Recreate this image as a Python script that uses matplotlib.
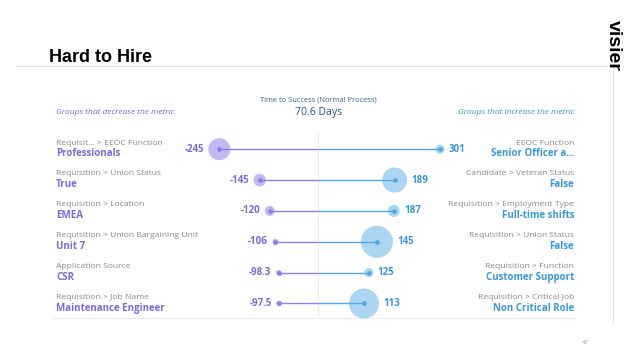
import numpy as np
import matplotlib
matplotlib.use('Agg')
import matplotlib.pyplot as plt

# chart data
left_cats = ['Requisit... > EEOC Function', 'Requisition > Union Status', 'Requisition > Location',
             'Requisition > Union Bargaining Unit', 'Application Source', 'Requisition > Job Name']
left_groups = ['Professionals', 'True', 'EMEA', 'Unit 7', 'CSR', 'Maintenance Engineer']
left_vals = [-245, -145, -120, -106, -98.3, -97.5]
left_counts = [484, 159, 100, 36, 29, 29]

right_cats = ['EEOC Function', 'Candidate > Veteran Status', 'Requisition > Employment Type',
              'Requisition > Union Status', 'Requisition > Function', 'Requisition > Critical Job']
right_groups = ['Senior Officer a...', 'False', 'Full-time shifts', 'False', 'Customer Support', 'Non Critical Role']
right_vals = [301, 189, 187, 145, 125, 113]
right_counts = [81, 625, 144, 1024, 81, 900]

left_labels = ['-245', '-145', '-120', '-106', '-98.3', '-97.5']
right_labels = ['301', '189', '187', '145', '125', '113']

metric_name = 'Time to Success (Normal Process)'
metric_value = '70.6 Days'

# colours
PURPLE_FILL = '#c2b9f4'
PURPLE = '#8e80e6'
PURPLE_TXT = '#7a6bdc'
BLUE_FILL = '#abd5f2'
BLUE = '#55a8df'
BLUE_TXT = '#3b98d8'
GRAY_TXT = '#8a8a8a'

W, H = 638, 359
fig = plt.figure(figsize=(W / 100, H / 100), dpi=100)
fig.patch.set_facecolor('white')

# panel geometry in pixels
px_l, px_r, px_t, px_b = 16, 613, 66, 322
x0_px, k = 318.3, 0.4042        # zero line and px per unit
row0_px, row_h = 149.2, 30.85

ax = fig.add_axes([px_l / W, 1 - px_b / H, (px_r - px_l) / W, (px_b - px_t) / H])
ax.set_xlim((px_l - x0_px) / k, (px_r - x0_px) / k)
ax.set_ylim((px_b - row0_px) / row_h, (px_t - row0_px) / row_h)
ax.set_xticks([])
ax.set_yticks([])
for s in ['left', 'bottom']:
    ax.spines[s].set_visible(False)
for s in ['top', 'right']:
    ax.spines[s].set_color('#e2e2e2')
    ax.spines[s].set_linewidth(0.8)


def px_x(p):
    return (p - x0_px) / k


def px_y(p):
    return (p - row0_px) / row_h


FONT = ['Open Sans', 'DejaVu Sans']
rows = np.arange(len(left_vals))

# zero line and bottom rule
ax.plot([0, 0], [px_y(133), px_y(318)], color='#ececec', lw=0.8, zorder=0)
ax.plot([px_x(53), px_x(575)], [px_y(318), px_y(318)], color='#ececec', lw=0.8, zorder=0)

# bubbles
r_left = np.sqrt(left_counts) / 2
r_right = np.sqrt(right_counts) / 2
ax.scatter(left_vals, rows, s=(2 * r_left * 0.72) ** 2, color=PURPLE_FILL, lw=0, zorder=1)
ax.scatter(right_vals, rows, s=(2 * r_right * 0.72) ** 2, color=BLUE_FILL, lw=0, zorder=1)

# connecting lines
for i in rows:
    ax.plot([left_vals[i], 0], [i, i], color=PURPLE, lw=1.0, zorder=2, solid_capstyle='butt')
    ax.plot([0, right_vals[i]], [i, i], color=BLUE, lw=1.0, zorder=2, solid_capstyle='butt')

ax.scatter(left_vals, rows, s=12, color=PURPLE, lw=0, zorder=3)
ax.scatter(right_vals, rows, s=12, color=BLUE, lw=0, zorder=3)

# value labels
for i in rows:
    ax.annotate(left_labels[i], (left_vals[i], i), xytext=(-(r_left[i] + 4.5) * 0.72, 0),
                textcoords='offset points', ha='right', va='center', fontsize=7,
                fontweight='bold', color=PURPLE_TXT, family=FONT)
    ax.annotate(right_labels[i], (right_vals[i], i), xytext=((r_right[i] + 4.5) * 0.72, 0),
                textcoords='offset points', ha='left', va='center', fontsize=7,
                fontweight='bold', color=BLUE_TXT, family=FONT)

# group labels
for i in rows:
    ax.text(px_x(56), i - 0.2, left_cats[i], ha='left', va='center', fontsize=6.1,
            color=GRAY_TXT, family=FONT)
    ax.text(px_x(56), i + 0.15, left_groups[i], ha='left', va='center', fontsize=7,
            fontweight='bold', color=PURPLE_TXT, family=FONT)
    ax.text(px_x(574), i - 0.2, right_cats[i], ha='right', va='center', fontsize=6.1,
            color=GRAY_TXT, family=FONT)
    ax.text(px_x(574), i + 0.15, right_groups[i], ha='right', va='center', fontsize=7,
            fontweight='bold', color=BLUE_TXT, family=FONT)

# headers
ax.text(px_x(56), px_y(112.7), 'Groups that decrease the metric', ha='left', va='center',
        fontsize=6.0, style='italic', color=PURPLE_TXT, family=FONT)
ax.text(px_x(574), px_y(112.7), 'Groups that increase the metric', ha='right', va='center',
        fontsize=6.0, style='italic', color=BLUE_TXT, family=FONT)
ax.text(0, px_y(100.3), metric_name, ha='center', va='center', fontsize=5.4,
        color='#3f6288', family=FONT)
ax.text(0, px_y(112.5), metric_value, ha='center', va='center', fontsize=7.6,
        color='#2d5580', family=FONT)

# slide title, logo, page number
fig.text(49 / W, 1 - 57 / H, 'Hard to Hire', ha='left', va='center', fontsize=13,
         fontweight='bold', family='Liberation Sans', color='black')
fig.text(613 / W, 1 - 45 / H, 'visier', ha='center', va='center', fontsize=14,
         fontweight='bold', family='Liberation Sans', rotation=-90, color='black')
fig.text(585 / W, 1 - 342.5 / H, '47', ha='center', va='center', fontsize=4.3,
         color='#9a9a9a', family=FONT)

fig.savefig('out.png', dpi=100, facecolor='white')
